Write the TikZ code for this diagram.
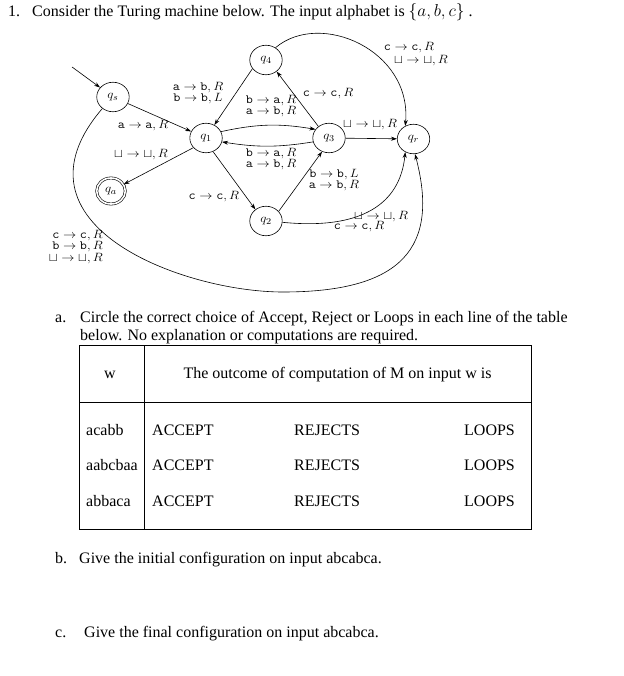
\documentclass[tikz,border=0pt]{standalone}
\usepackage{amsmath, amssymb}
\usepackage{fontspec}
\setmainfont{Liberation Serif}
\usetikzlibrary{arrows.meta}

\newcommand{\mv}[3]{$\mathtt{#1}\rightarrow\mathtt{#2},#3$}

\tikzset{
  state/.style={draw, circle, minimum size=29.5pt, inner sep=0pt, line width=0.6pt, font=\fontsize{13}{13}\selectfont},
  accstate/.style={state, double, double distance=1.6pt, minimum size=26pt},
  trans/.style={-{Stealth[length=6pt,width=4pt]}, line width=0.6pt},
  lab/.style={inner sep=0pt, align=center, font=\fontsize{12.5}{10.5}\selectfont},
  txt/.style={inner sep=0pt, anchor=base west, font=\fontsize{16}{18}\selectfont},
}

\begin{document}
\begin{tikzpicture}[x=1pt, y=1pt]
\useasboundingbox (0,0) rectangle (623,-676);
% question
\node[txt] (num1) at (8,-17) {1.};
\node[txt] (title) at (32,-17) {Consider the Turing machine below. The input alphabet is $\{a, b, c\}$ .};
% the machine
\begin{scope}[xscale=1.1, transform shape]
\node[state] (qs) at (102.7,-97) {$q_s$};
\node[state] (q4) at (241.8,-60) {$q_4$};
\node[state] (q1) at (187.3,-138) {$q_1$};
\node[state] (q3) at (299.1,-138) {$q_3$};
\node[state] (qr) at (375.9,-139) {$q_r$};
\node[accstate] (qa) at (100.9,-191) {$q_a$};
\node[state] (q2) at (241.8,-221) {$q_2$};
\coordinate (start) at (65.5,-67);
\coordinate (loopbot) at (257.3,-292);
% transitions
\draw[trans] (start) -- (qs);
\draw[trans] (qs) -- (q1);
\draw[trans] (q4.215) -- (q1.60);
\draw[trans] (q1.25) to[bend left=12] (q3.145);
\draw[trans] (q3.195) to[bend left=10] (q1.-15);
\draw[trans] (q3.130) -- (q4.-50);
\draw[trans] (q3) -- (qr);
\draw[trans] (q1.220) -- (qa.30);
\draw[trans] (q1.-65) -- (q2.130);
\draw[trans] (q2.40) -- (q3.-115);
\draw[trans] (q4.55) .. controls (290.9,-10) and (374.5,-50) .. (qr.120);
\draw[trans] (q2.-5) .. controls (327.3,-230) and (363.6,-205) .. (qr.-120);
\draw[trans] (qs.-130) .. controls (2,-225) and (166.4,-292) .. (loopbot)
  .. controls (366.4,-292) and (399.5,-246.7) .. (qr.-85);
% labels
\node[lab] (lsq1) at (130,-126) {\mv{a}{a}{R}};
\node[lab] (l4q1) at (180,-93) {\mv{a}{b}{R}\\\mv{b}{b}{L}};
\node[lab] (l1q3) at (246.4,-106) {\mv{b}{a}{R}\\\mv{a}{b}{R}};
\node[lab] (l3q1) at (246.4,-159) {\mv{b}{a}{R}\\\mv{a}{b}{R}};
\node[lab] (l3q4) at (298.2,-94) {\mv{c}{c}{R}};
\node[lab] (l3qr) at (336.4,-125) {\mv{\sqcup}{\sqcup}{R}};
\node[lab] (l4qra) at (371.8,-48) {\mv{c}{c}{R}};
\node[lab] (l4qrb) at (382.7,-61) {\mv{\sqcup}{\sqcup}{R}};
\node[lab] (l1qa) at (128.2,-155) {\mv{\sqcup}{\sqcup}{R}};
\node[lab] (l1q2) at (194.5,-197) {\mv{c}{c}{R}};
\node[lab] (l2q3) at (303.6,-180) {\mv{b}{b}{L}\\\mv{a}{b}{R}};
\node[lab] (l2qra) at (346.4,-217) {\mv{\sqcup}{\sqcup}{R}};
\node[lab] (l2qrb) at (326.4,-227) {\mv{c}{c}{R}};
\node[lab, align=right, anchor=east] (lsqr) at (93.6,-247) {\mv{c}{c}{R}\\\mv{b}{b}{R}\\\mv{\sqcup}{\sqcup}{R}};
\end{scope}
% part a
\node[txt] (ia) at (55,-322) {a.};
\node[txt] (ta1) at (80,-322) {Circle the correct choice of Accept, Reject or Loops in each line of the table};
\node[txt] (ta2) at (80,-340) {below. No explanation or computations are required.};
% table
\draw[line width=0.8pt] (79,-345) rectangle (531,-529);
\draw[line width=0.8pt] (79,-402) -- (531,-402);
\draw[line width=0.8pt] (144,-345) -- (144,-529);
\node[txt, anchor=base] (hw) at (110,-378) {w};
\node[txt, anchor=base] (hout) at (337.5,-378) {The outcome of computation of M on input w is};
\foreach \w/\y in {acabb/435, aabcbaa/470, abbaca/506} {
  \node[txt] (w\y) at (86,-\y) {\w};
  \node[txt] (acc\y) at (152,-\y) {ACCEPT};
  \node[txt] (rej\y) at (294,-\y) {REJECTS};
  \node[txt] (loop\y) at (464,-\y) {LOOPS};
}
% parts b and c
\node[txt] (ib) at (55,-563) {b.};
\node[txt] (tb) at (79,-563) {Give the initial configuration on input abcabca.};
\node[txt] (ic) at (55,-637) {c.};
\node[txt] (tc) at (84,-637) {Give the final configuration on input abcabca.};
\end{tikzpicture}
\end{document}
